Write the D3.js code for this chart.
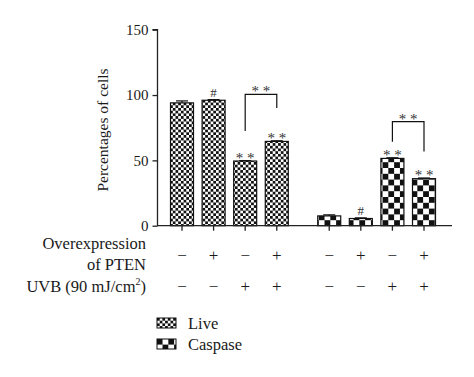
<!DOCTYPE html>
<head>
    <title>PTEN UVB</title>
</head>
<style>
    body { margin: 0; background: #fff; }
    svg { font-family: "Liberation Serif", "DejaVu Serif", serif; }
</style>
<svg width="474" height="377"></svg>
<script src="https://d3js.org/d3.v7.min.js"></script>
<script>

    var groups = ["Live", "Caspase"];
    var conditions = ["c1", "c2", "c3", "c4"];
    var liveValues = [94, 96, 49.5, 64.5];
    var caspaseValues = [7.5, 5.5, 51.5, 36];
    var liveErrors = [1.5, 0.5, 0.3, 0.5];
    var caspaseErrors = [0.8, 0.5, 0.5, 0.5];
    var liveMarks = ["", "#", "* *", "* *"];
    var caspaseMarks = ["", "#", "* *", "* *"];
    var ptenSigns = ["\u2212", "+", "\u2212", "+"];
    var uvbSigns = ["\u2212", "\u2212", "+", "+"];
    var yTicks = [0, 50, 100, 150];
    // brackets: group, from bar, to bar, top value, left leg end, right leg end
    var brackets = [
        ["Live", 2, 3, 100.5, 72.5, 90],
        ["Caspase", 2, 3, 79.6, 64.3, 56.7]
    ];

    var svg = d3.select("svg");

    var y = d3.scaleLinear().domain([0, 150]).range([225.7, 29.7]);
    var xGroup = d3.scaleBand().domain(groups).range([170.5, 435.5]).paddingInner(0.2).paddingOuter(0);
    var xBar = d3.scaleBand().domain(conditions).range([0, xGroup.bandwidth()]).paddingInner(0.272).paddingOuter(0);

    var defs = svg.append("defs");
    var pLive = defs.append("pattern").attr("id", "pLive")
        .attr("patternUnits", "userSpaceOnUse").attr("width", 5.4).attr("height", 5.4);
    pLive.append("rect").attr("width", 5.4).attr("height", 5.4).attr("fill", "#fff");
    pLive.append("rect").attr("width", 2.7).attr("height", 2.7).attr("fill", "#111");
    pLive.append("rect").attr("x", 2.7).attr("y", 2.7).attr("width", 2.7).attr("height", 2.7).attr("fill", "#111");

    var pCas = defs.append("pattern").attr("id", "pCas")
        .attr("patternUnits", "userSpaceOnUse").attr("width", 11.6).attr("height", 11.6)
        .attr("patternTransform", "translate(" + (xGroup("Caspase") + 1) + ",226)");
    pCas.append("rect").attr("width", 11.6).attr("height", 11.6).attr("fill", "#fff");
    pCas.append("rect").attr("width", 5.8).attr("height", 5.8).attr("fill", "#111");
    pCas.append("rect").attr("x", 5.8).attr("y", 5.8).attr("width", 5.8).attr("height", 5.8).attr("fill", "#111");

    var series = [
        {group: "Live", values: liveValues, errors: liveErrors, marks: liveMarks, fill: "url(#pLive)"},
        {group: "Caspase", values: caspaseValues, errors: caspaseErrors, marks: caspaseMarks, fill: "url(#pCas)"}
    ];

    var bars = [];
    series.forEach(function(s) {
        s.values.forEach(function(v, i) {
            bars.push({group: s.group, cond: conditions[i], i: i, value: v, err: s.errors[i], mark: s.marks[i], fill: s.fill});
        });
    });

    function cx(d) { return xGroup(d.group) + xBar(d.cond) + xBar.bandwidth() / 2; }

    // bars
    svg.append("g").selectAll("rect")
        .data(bars)
        .enter().append("rect")
        .attr("x", function(d) { return xGroup(d.group) + xBar(d.cond); })
        .attr("y", function(d) { return y(d.value); })
        .attr("width", xBar.bandwidth())
        .attr("height", function(d) { return y(0) - y(d.value); })
        .attr("fill", function(d) { return d.fill; })
        .attr("stroke", "#111")
        .attr("stroke-width", 1.2);

    // error bars
    var eb = svg.append("g").attr("stroke", "#111").attr("stroke-width", 1.2);
    bars.forEach(function(d) {
        var x0 = cx(d);
        eb.append("line").attr("x1", x0).attr("x2", x0).attr("y1", y(d.value)).attr("y2", y(d.value + d.err));
        eb.append("line").attr("x1", x0 - 6).attr("x2", x0 + 6).attr("y1", y(d.value + d.err)).attr("y2", y(d.value + d.err));
    });

    // significance marks
    svg.append("g").selectAll("text")
        .data(bars.filter(function(d) { return d.mark; }))
        .enter().append("text")
        .attr("x", cx)
        .attr("y", function(d) { return y(d.value + d.err) - (d.mark === "#" ? 3 : -2); })
        .attr("text-anchor", "middle")
        .attr("font-size", d => d.mark === "#" ? 13 : 15)
        .attr("fill", "#333")
        .text(function(d) { return d.mark; });

    // brackets
    var br = svg.append("g");
    brackets.forEach(function(b) {
        var xa = xGroup(b[0]) + xBar(conditions[b[1]]) + xBar.bandwidth() / 2;
        var xb = xGroup(b[0]) + xBar(conditions[b[2]]) + xBar.bandwidth() / 2;
        br.append("path")
            .attr("d", "M" + xa + "," + y(b[4]) + "V" + y(b[3]) + "H" + xb + "V" + y(b[5]))
            .attr("fill", "none").attr("stroke", "#111").attr("stroke-width", 1.2);
        br.append("text")
            .attr("x", (xa + xb) / 2).attr("y", y(b[3]) + 2)
            .attr("text-anchor", "middle").attr("font-size", 15).attr("fill", "#333")
            .text("* *");
    });

    // y axis
    var yAxis = svg.append("g")
        .attr("transform", "translate(157.5,0)")
        .call(d3.axisLeft(y).tickValues(yTicks).tickSize(5).tickPadding(4));
    yAxis.select(".domain").attr("stroke", "#222").attr("stroke-width", 1.3).attr("d", "M-5," + y(150) + "H0V" + y(0));
    yAxis.selectAll(".tick line").attr("stroke", "#222").attr("stroke-width", 1.3);
    yAxis.selectAll("text").attr("font-size", 15).attr("font-family", "Liberation Serif").attr("fill", "#1a1a1a");

    svg.append("text")
        .attr("transform", "translate(108,130) rotate(-90)")
        .attr("text-anchor", "middle")
        .attr("font-size", 15.5)
        .attr("fill", "#1a1a1a")
        .text("Percentages of cells");

    // x axis line + ticks
    svg.append("line").attr("x1", 157).attr("x2", 452).attr("y1", y(0)).attr("y2", y(0))
        .attr("stroke", "#222").attr("stroke-width", 1.3);
    svg.append("g").selectAll("line")
        .data(bars).enter().append("line")
        .attr("x1", cx).attr("x2", cx)
        .attr("y1", y(0)).attr("y2", y(0) + 5)
        .attr("stroke", "#222").attr("stroke-width", 1.3);

    // condition rows
    var rowText = svg.append("g").attr("font-size", 16.5).attr("fill", "#1a1a1a");
    rowText.append("text").attr("x", 146).attr("y", 249).attr("text-anchor", "end").text("Overexpression");
    rowText.append("text").attr("x", 146).attr("y", 270).attr("text-anchor", "end").text("of PTEN");
    var uvb = rowText.append("text").attr("x", 146).attr("y", 292).attr("text-anchor", "end");
    uvb.append("tspan").text("UVB (90 mJ/cm");
    uvb.append("tspan").attr("font-size", 10).attr("dy", -7).text("2");
    uvb.append("tspan").attr("dy", 7).text(")");

    svg.append("g").selectAll("text")
        .data(bars).enter().append("text")
        .attr("x", cx).attr("y", 261)
        .attr("text-anchor", "middle").attr("font-size", 17).attr("fill", "#1a1a1a")
        .text(function(d) { return ptenSigns[d.i]; });
    svg.append("g").selectAll("text")
        .data(bars).enter().append("text")
        .attr("x", cx).attr("y", 292)
        .attr("text-anchor", "middle").attr("font-size", 17).attr("fill", "#1a1a1a")
        .text(function(d) { return uvbSigns[d.i]; });

    // legend
    var legend = svg.append("g").selectAll("g")
        .data(series).enter().append("g")
        .attr("transform", function(d, i) { return "translate(157," + (318 + i * 21) + ")"; });
    legend.append("rect")
        .attr("width", 19).attr("height", 10)
        .attr("fill", function(d, i) { return i === 0 ? "url(#pLive)" : "url(#pCas)"; })
        .attr("stroke", "#111").attr("stroke-width", 1);
    legend.append("text")
        .attr("x", 31).attr("y", 11)
        .attr("font-size", 16.5).attr("fill", "#1a1a1a")
        .text(function(d) { return d.group; });

</script>
